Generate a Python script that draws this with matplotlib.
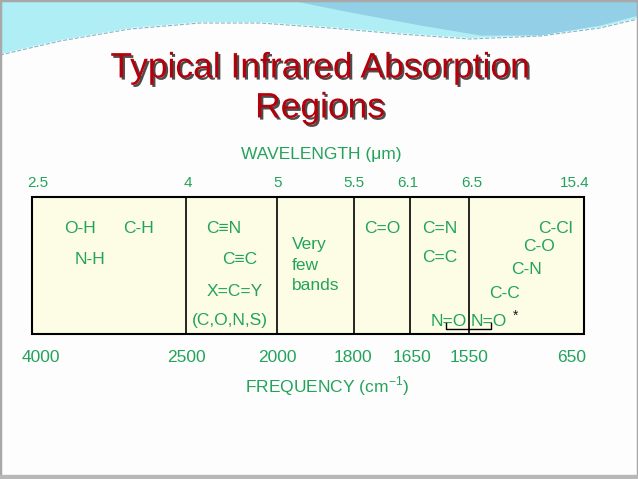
import numpy as np
import matplotlib.pyplot as plt
import matplotlib.patheffects as pe
from matplotlib.patches import Rectangle

plt.rcParams['font.family'] = ['Liberation Sans', 'DejaVu Sans']

GREEN = '#23a35a'
RED = '#b4000a'

# wavelength (um) and frequency (cm-1) at the region boundaries
wavelengths = ['2.5', '4', '5', '5.5', '6.1', '6.5', '15.4']
frequencies = ['4000', '2500', '2000', '1800', '1650', '1550', '650']
# horizontal position of each boundary on the slide (pixels)
boundary_x = [32, 186, 277, 354, 410, 469, 584]
wl_label_x = [38, 188, 278, 354, 408, 472, 575]
fr_label_x = [41, 186, 277, 353, 412, 469, 572]

# bond labels inside the box: (text, x, y, ha)
bonds = [
    ('O-H', 80, 228, 'center'), ('C-H', 138, 228, 'center'),
    ('N-H', 90, 260, 'center'),
    ('C\u2261N', 224, 228, 'center'), ('C\u2261C', 240, 260, 'center'),
    ('X=C=Y', 235, 292, 'center'), ('(C,O,N,S)', 230, 321, 'center'),
    ('Very\nfew\nbands', 292, 265, 'left'),
    ('C=O', 382, 228, 'center'),
    ('C=N', 440, 228, 'center'), ('C=C', 440, 258, 'center'),
    ('C-Cl', 555, 228, 'center'), ('C-O', 539, 246, 'center'),
    ('C-N', 526, 270, 'center'), ('C-C', 505, 293, 'center'),
    ('N=O', 449, 321, 'center'), ('N=O', 489, 321, 'center'),
]

fig = plt.figure(figsize=(6.38, 4.79), dpi=100)
ax = fig.add_axes([0, 0, 1, 1])
ax.set_xlim(0, 638)
ax.set_ylim(479, 0)
ax.axis('off')

# slide background
ax.add_patch(Rectangle((0, 0), 638, 479, color='#fdfdfd', zorder=0))
xs = np.array([0, 60, 130, 200, 260, 330, 400, 470, 540, 600, 638])
ys = np.array([54, 40, 28, 22, 22, 27, 33, 38, 35, 27, 18])
ax.fill_between(xs, 0, ys, color='#aeeef4', zorder=1, lw=0)
xb = np.array([290, 350, 420, 480, 540, 600, 638])
yb = np.array([0, 12, 25, 35, 35, 25, 15])
ax.fill_between(xb, 0, yb, color='#93cfe6', zorder=1, lw=0)
ax.plot(xs, ys + 1, color='#7fb8c8', lw=0.8, ls='--', zorder=2)
ax.add_patch(Rectangle((0, 0), 638, 479, fill=False, ec='#a8a8a8', lw=2.5, zorder=5))
ax.add_patch(Rectangle((0, 475), 638, 4, color='#b8b8b8', zorder=5))

# title
shadow = [pe.withSimplePatchShadow(offset=(1.5, -1.5), shadow_rgbFace='#3a3a3a', alpha=0.9)]
ax.text(320, 68, 'Typical Infrared Absorption', color=RED, fontsize=25.5,
        ha='center', va='center', path_effects=shadow, zorder=6)
ax.text(320, 108, 'Regions', color=RED, fontsize=25.5,
        ha='center', va='center', path_effects=shadow, zorder=6)

# box and dividers
ax.add_patch(Rectangle((boundary_x[0], 197), boundary_x[-1] - boundary_x[0], 137,
                       fc='#fdfde6', ec='black', lw=1.5, zorder=3))
ax.vlines(boundary_x[1:-1], 197, 334, color='black', lw=1.2, zorder=4)

ax.text(321, 155, 'WAVELENGTH (\u03bcm)', color=GREEN, fontsize=12.5, ha='center', va='center', zorder=6)
for x, lab in zip(wl_label_x, wavelengths):
    ax.text(x, 183, lab, color=GREEN, fontsize=11, ha='center', va='center', zorder=6)
for x, lab in zip(fr_label_x, frequencies):
    ax.text(x, 357, lab, color=GREEN, fontsize=12.5, ha='center', va='center', zorder=6)
ax.text(327, 386, 'FREQUENCY (cm$^{\\mathregular{-1}}$)', color=GREEN, fontsize=12.5,
        ha='center', va='center', zorder=6)

for lab, x, y, ha in bonds:
    ax.text(x, y, lab, color=GREEN, fontsize=12.5, ha=ha, va='center',
            linespacing=1.45, zorder=6)
ax.text(516, 316, '*', color='#1a1a1a', fontsize=10, ha='center', va='center', zorder=6)

# bracket joining the two N=O entries
ax.plot([446, 446, 491, 491], [323, 329, 329, 323], color='black', lw=1, zorder=6)

fig.savefig('out.png', dpi=100)
